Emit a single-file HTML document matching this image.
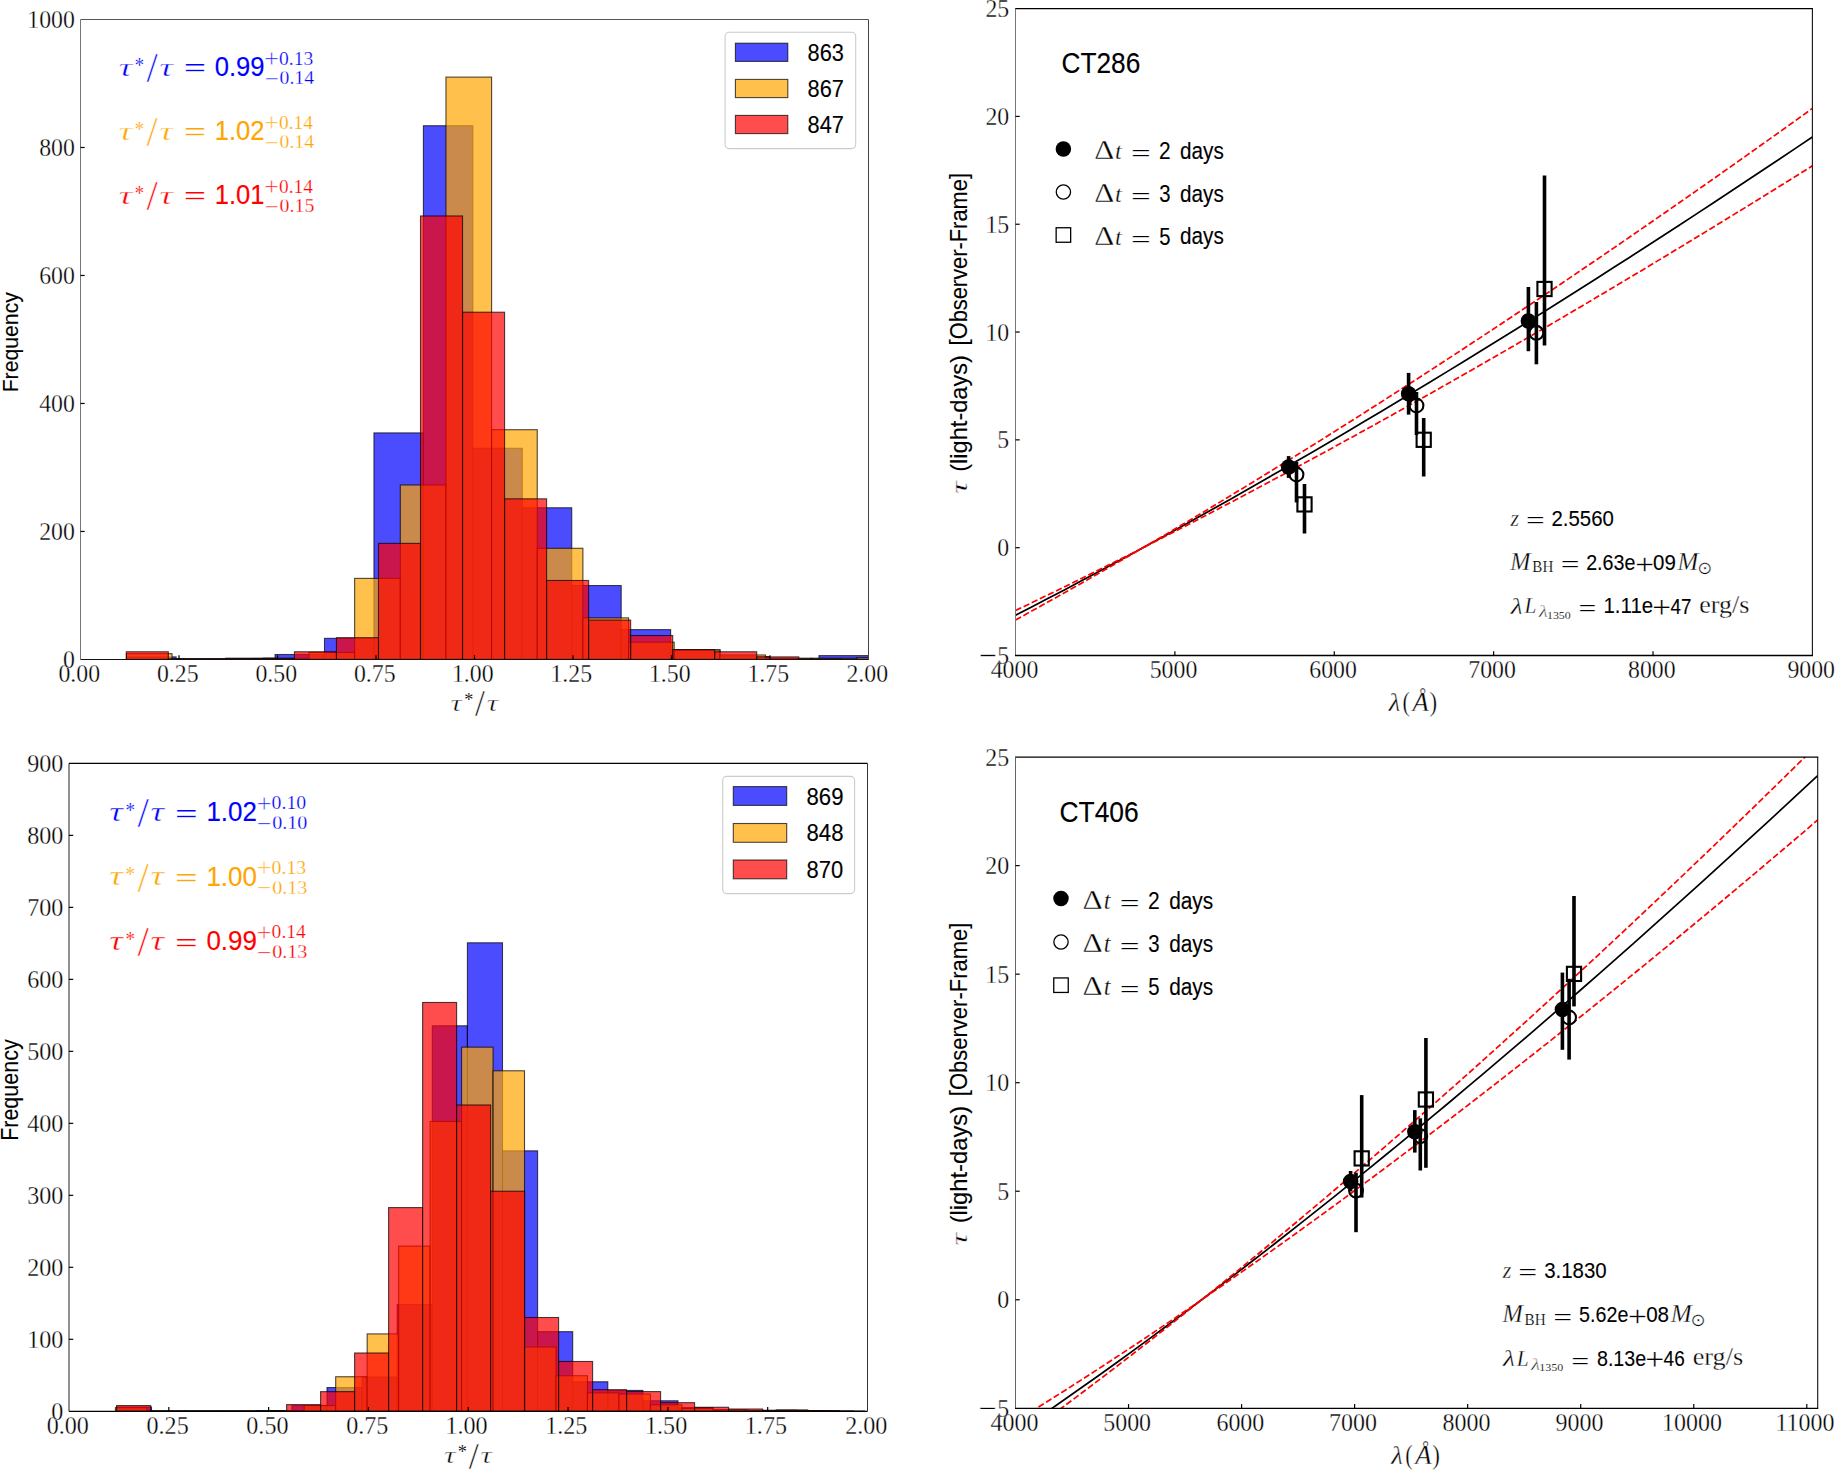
<!DOCTYPE html>
<html lang="en"><head><meta charset="utf-8"><title>Lag recovery histograms and lag spectra</title>
<style>html,body{margin:0;padding:0;background:#fff;overflow:hidden}svg{display:block}</style></head><body>
<svg width="1835" height="1470" viewBox="0 0 1835 1470">
<rect width="1835" height="1470" fill="#fff"/>
<clipPath id="clip1"><rect x="80.5" y="19.5" width="788" height="639.95"/></clipPath>
<g clip-path="url(#clip1)">
<g fill="#0000ff" fill-opacity="0.7" stroke="#000" stroke-opacity="0.7" stroke-width="1.1">
<rect x="126.7" y="656.89" width="49.45" height="2.56"/>
<rect x="176.15" y="658.81" width="49.45" height="0.64"/>
<rect x="225.6" y="658.17" width="49.45" height="1.28"/>
<rect x="275.05" y="654.52" width="49.45" height="4.93"/>
<rect x="324.5" y="638.33" width="49.45" height="21.12"/>
<rect x="373.95" y="432.91" width="49.45" height="226.54"/>
<rect x="423.4" y="125.73" width="49.45" height="533.72"/>
<rect x="472.85" y="448.27" width="49.45" height="211.18"/>
<rect x="522.3" y="507.78" width="49.45" height="151.67"/>
<rect x="571.75" y="585.54" width="49.45" height="73.91"/>
<rect x="621.2" y="629.63" width="49.45" height="29.82"/>
<rect x="670.65" y="649.85" width="49.45" height="9.6"/>
<rect x="720.1" y="656.57" width="49.45" height="2.88"/>
<rect x="769.55" y="658.81" width="49.45" height="0.64"/>
<rect x="819" y="655.61" width="49.45" height="3.84"/>
<rect x="868.45" y="657.53" width="49.45" height="1.92"/>
</g>
<g fill="#ffa500" fill-opacity="0.7" stroke="#000" stroke-opacity="0.7" stroke-width="1.1">
<rect x="126.4" y="653.69" width="45.65" height="5.76"/>
<rect x="172.05" y="658.81" width="45.65" height="0.64"/>
<rect x="217.7" y="658.81" width="45.65" height="0.64"/>
<rect x="263.35" y="658.17" width="45.65" height="1.28"/>
<rect x="309" y="652.41" width="45.65" height="7.04"/>
<rect x="354.65" y="578.37" width="45.65" height="81.08"/>
<rect x="400.3" y="485" width="45.65" height="174.45"/>
<rect x="445.95" y="77.1" width="45.65" height="582.35"/>
<rect x="491.6" y="429.71" width="45.65" height="229.74"/>
<rect x="537.25" y="548.29" width="45.65" height="111.16"/>
<rect x="582.9" y="617.85" width="45.65" height="41.6"/>
<rect x="628.55" y="642.17" width="45.65" height="17.28"/>
<rect x="674.2" y="649.85" width="45.65" height="9.6"/>
<rect x="719.85" y="654.97" width="45.65" height="4.48"/>
<rect x="765.5" y="658.17" width="45.65" height="1.28"/>
<rect x="811.15" y="658.17" width="45.65" height="1.28"/>
<rect x="856.8" y="657.53" width="45.65" height="1.92"/>
</g>
<g fill="#ff0000" fill-opacity="0.7" stroke="#000" stroke-opacity="0.7" stroke-width="1.1">
<rect x="126.3" y="651.77" width="42.03" height="7.68"/>
<rect x="168.33" y="658.81" width="42.03" height="0.64"/>
<rect x="210.36" y="658.81" width="42.03" height="0.64"/>
<rect x="252.39" y="658.49" width="42.03" height="0.96"/>
<rect x="294.42" y="651.77" width="42.03" height="7.68"/>
<rect x="336.45" y="637.69" width="42.03" height="21.76"/>
<rect x="378.48" y="543.36" width="42.03" height="116.09"/>
<rect x="420.51" y="215.96" width="42.03" height="443.49"/>
<rect x="462.54" y="312.21" width="42.03" height="347.24"/>
<rect x="504.57" y="498.82" width="42.03" height="160.63"/>
<rect x="546.6" y="580.48" width="42.03" height="78.97"/>
<rect x="588.63" y="620.09" width="42.03" height="39.36"/>
<rect x="630.66" y="635.52" width="42.03" height="23.93"/>
<rect x="672.69" y="649.66" width="42.03" height="9.79"/>
<rect x="714.72" y="651.77" width="42.03" height="7.68"/>
<rect x="756.75" y="656.89" width="42.03" height="2.56"/>
<rect x="798.78" y="658.81" width="42.03" height="0.64"/>
<rect x="840.81" y="659.13" width="42.03" height="0.32"/>
</g>
</g>
<line x1="80.5" y1="19.5" x2="868.5" y2="19.5" stroke="#555" stroke-width="1"/>
<line x1="868.5" y1="19.5" x2="868.5" y2="659.45" stroke="#444" stroke-width="1"/>
<line x1="80.5" y1="19.5" x2="80.5" y2="659.45" stroke="#777" stroke-width="1"/>
<line x1="80.5" y1="659.45" x2="868.5" y2="659.45" stroke="#111" stroke-width="1.1"/>
<text transform="translate(58.47 682) scale(0.93 1)" font-family='"Liberation Serif", "DejaVu Serif", serif' font-size="25.6" stroke="#fff" stroke-width="0.32">0.00</text>
<line x1="179" y1="659.45" x2="179" y2="655.25" stroke="#000" stroke-width="1.2"/>
<text transform="translate(156.97 682) scale(0.93 1)" font-family='"Liberation Serif", "DejaVu Serif", serif' font-size="25.6" stroke="#fff" stroke-width="0.32">0.25</text>
<line x1="277.5" y1="659.45" x2="277.5" y2="655.25" stroke="#000" stroke-width="1.2"/>
<text transform="translate(255.47 682) scale(0.93 1)" font-family='"Liberation Serif", "DejaVu Serif", serif' font-size="25.6" stroke="#fff" stroke-width="0.32">0.50</text>
<line x1="376" y1="659.45" x2="376" y2="655.25" stroke="#000" stroke-width="1.2"/>
<text transform="translate(353.97 682) scale(0.93 1)" font-family='"Liberation Serif", "DejaVu Serif", serif' font-size="25.6" stroke="#fff" stroke-width="0.32">0.75</text>
<line x1="474.5" y1="659.45" x2="474.5" y2="655.25" stroke="#000" stroke-width="1.2"/>
<text transform="translate(451.91 682) scale(0.93 1)" font-family='"Liberation Serif", "DejaVu Serif", serif' font-size="25.6" stroke="#fff" stroke-width="0.32">1.00</text>
<line x1="573" y1="659.45" x2="573" y2="655.25" stroke="#000" stroke-width="1.2"/>
<text transform="translate(550.41 682) scale(0.93 1)" font-family='"Liberation Serif", "DejaVu Serif", serif' font-size="25.6" stroke="#fff" stroke-width="0.32">1.25</text>
<line x1="671.5" y1="659.45" x2="671.5" y2="655.25" stroke="#000" stroke-width="1.2"/>
<text transform="translate(648.91 682) scale(0.93 1)" font-family='"Liberation Serif", "DejaVu Serif", serif' font-size="25.6" stroke="#fff" stroke-width="0.32">1.50</text>
<line x1="770" y1="659.45" x2="770" y2="655.25" stroke="#000" stroke-width="1.2"/>
<text transform="translate(747.41 682) scale(0.93 1)" font-family='"Liberation Serif", "DejaVu Serif", serif' font-size="25.6" stroke="#fff" stroke-width="0.32">1.75</text>
<text transform="translate(846.47 682) scale(0.93 1)" font-family='"Liberation Serif", "DejaVu Serif", serif' font-size="25.6" stroke="#fff" stroke-width="0.32">2.00</text>
<text transform="translate(62.94 668.05) scale(0.93 1)" font-family='"Liberation Serif", "DejaVu Serif", serif' font-size="25.6" stroke="#fff" stroke-width="0.32">0</text>
<line x1="80.5" y1="531.46" x2="84.7" y2="531.46" stroke="#000" stroke-width="1.2"/>
<text transform="translate(39.13 540.06) scale(0.93 1)" font-family='"Liberation Serif", "DejaVu Serif", serif' font-size="25.6" stroke="#fff" stroke-width="0.32">200</text>
<line x1="80.5" y1="403.47" x2="84.7" y2="403.47" stroke="#000" stroke-width="1.2"/>
<text transform="translate(39.13 412.07) scale(0.93 1)" font-family='"Liberation Serif", "DejaVu Serif", serif' font-size="25.6" stroke="#fff" stroke-width="0.32">400</text>
<line x1="80.5" y1="275.48" x2="84.7" y2="275.48" stroke="#000" stroke-width="1.2"/>
<text transform="translate(39.13 284.08) scale(0.93 1)" font-family='"Liberation Serif", "DejaVu Serif", serif' font-size="25.6" stroke="#fff" stroke-width="0.32">600</text>
<line x1="80.5" y1="147.49" x2="84.7" y2="147.49" stroke="#000" stroke-width="1.2"/>
<text transform="translate(39.13 156.09) scale(0.93 1)" font-family='"Liberation Serif", "DejaVu Serif", serif' font-size="25.6" stroke="#fff" stroke-width="0.32">800</text>
<text transform="translate(27.23 28.1) scale(0.93 1)" font-family='"Liberation Serif", "DejaVu Serif", serif' font-size="25.6" stroke="#fff" stroke-width="0.32">1000</text>
<text transform="translate(450.51 710.7) scale(1.4113 1)" font-family='"Liberation Serif", "DejaVu Serif", serif' font-size="22.3" font-style="italic" stroke="#fff" stroke-width="0.45">τ</text>
<text transform="translate(464.15 705.58) scale(1.0195 1)" font-family='"Liberation Serif", "DejaVu Serif", serif' font-size="17.87" stroke="#fff" stroke-width="0.1">*</text>
<text transform="translate(475 716.37) scale(0.9511 1)" font-family='"Liberation Serif", "DejaVu Serif", serif' font-size="37.38" stroke="#fff" stroke-width="0.47">/</text>
<text transform="translate(486.71 710.7) scale(1.4113 1)" font-family='"Liberation Serif", "DejaVu Serif", serif' font-size="22.3" font-style="italic" stroke="#fff" stroke-width="0.45">τ</text>
<text transform="translate(17.82 392.33) rotate(-90) scale(0.9226 1)" font-family='"Liberation Sans", "DejaVu Sans", sans-serif' font-size="23" stroke="#000" stroke-width="0.12">Frequency</text>
<rect x="725.1" y="32.3" width="130.6" height="116.3" rx="4" ry="4" fill="#fff" fill-opacity="0.8" stroke="#ccc" stroke-width="1.1"/>
<rect x="735.4" y="43.2" width="52.4" height="18.2" fill="#0000ff" fill-opacity="0.7" stroke="#000" stroke-opacity="0.7" stroke-width="1.1"/>
<text transform="translate(807.62 60.53) scale(0.9161 1)" font-family='"Liberation Sans", "DejaVu Sans", sans-serif' font-size="23.79" stroke="#000" stroke-width="0.12">863</text>
<rect x="735.4" y="79.4" width="52.4" height="18.2" fill="#ffa500" fill-opacity="0.7" stroke="#000" stroke-opacity="0.7" stroke-width="1.1"/>
<text transform="translate(807.62 97.03) scale(0.9161 1)" font-family='"Liberation Sans", "DejaVu Sans", sans-serif' font-size="23.79" stroke="#000" stroke-width="0.12">867</text>
<rect x="735.4" y="115.4" width="52.4" height="18.2" fill="#ff0000" fill-opacity="0.7" stroke="#000" stroke-opacity="0.7" stroke-width="1.1"/>
<text transform="translate(807.62 133.03) scale(0.9161 1)" font-family='"Liberation Sans", "DejaVu Sans", sans-serif' font-size="23.79" stroke="#000" stroke-width="0.12">847</text>
<text transform="translate(118.4 75.59) scale(1.4762 1)" font-family='"Liberation Serif", "DejaVu Serif", serif' font-size="26.01" font-style="italic" fill="#0000ff" stroke="#fff" stroke-width="0.45">τ</text>
<text transform="translate(134.72 71.7) scale(0.9231 1)" font-family='"Liberation Serif", "DejaVu Serif", serif' font-size="20.27" fill="#0000ff" stroke="#fff" stroke-width="0.1">*</text>
<text transform="translate(146.6 82.25) scale(0.9778 1)" font-family='"Liberation Serif", "DejaVu Serif", serif' font-size="41.45" fill="#0000ff" stroke="#fff" stroke-width="0.52">/</text>
<text transform="translate(159.2 75.59) scale(1.4659 1)" font-family='"Liberation Serif", "DejaVu Serif", serif' font-size="26.01" font-style="italic" fill="#0000ff" stroke="#fff" stroke-width="0.45">τ</text>
<text transform="translate(183.64 78.49) scale(1.3688 1)" font-family='"Liberation Serif", "DejaVu Serif", serif' font-size="28.99" fill="#0000ff" stroke="#fff" stroke-width="0.15">=</text>
<text transform="translate(214.7 76.17) scale(0.9295 1)" font-family='"Liberation Sans", "DejaVu Sans", sans-serif' font-size="27.55" fill="#0000ff" stroke="#0000ff" stroke-width="0.14">0.99</text>
<text transform="translate(264.05 67.88) scale(1.0091 1)" font-family='"Liberation Serif", "DejaVu Serif", serif' font-size="26.43" fill="#0000ff" stroke="#fff" stroke-width="0.5">+</text>
<text transform="translate(278.99 64.5) scale(1.0033 1)" font-family='"Liberation Serif", "DejaVu Serif", serif' font-size="19.49" fill="#0000ff" stroke="#fff" stroke-width="0.24">0.13</text>
<text transform="translate(264.71 86.52) scale(1.0512 1)" font-family='"Liberation Serif", "DejaVu Serif", serif' font-size="24.15" fill="#0000ff" stroke="#fff" stroke-width="0.4">−</text>
<text transform="translate(279.58 84.09) scale(1.0047 1)" font-family='"Liberation Serif", "DejaVu Serif", serif' font-size="19.64" fill="#0000ff" stroke="#fff" stroke-width="0.25">0.14</text>
<text transform="translate(118.4 139.59) scale(1.4762 1)" font-family='"Liberation Serif", "DejaVu Serif", serif' font-size="26.01" font-style="italic" fill="#ffa500" stroke="#fff" stroke-width="0.45">τ</text>
<text transform="translate(134.72 135.7) scale(0.9231 1)" font-family='"Liberation Serif", "DejaVu Serif", serif' font-size="20.27" fill="#ffa500" stroke="#fff" stroke-width="0.1">*</text>
<text transform="translate(146.6 146.25) scale(0.9778 1)" font-family='"Liberation Serif", "DejaVu Serif", serif' font-size="41.45" fill="#ffa500" stroke="#fff" stroke-width="0.52">/</text>
<text transform="translate(159.2 139.59) scale(1.4659 1)" font-family='"Liberation Serif", "DejaVu Serif", serif' font-size="26.01" font-style="italic" fill="#ffa500" stroke="#fff" stroke-width="0.45">τ</text>
<text transform="translate(183.64 142.49) scale(1.3688 1)" font-family='"Liberation Serif", "DejaVu Serif", serif' font-size="28.99" fill="#ffa500" stroke="#fff" stroke-width="0.15">=</text>
<text transform="translate(214.7 140.17) scale(0.9295 1)" font-family='"Liberation Sans", "DejaVu Sans", sans-serif' font-size="27.55" fill="#ffa500" stroke="#ffa500" stroke-width="0.14">1.02</text>
<text transform="translate(264.05 131.88) scale(1.0091 1)" font-family='"Liberation Serif", "DejaVu Serif", serif' font-size="26.43" fill="#ffa500" stroke="#fff" stroke-width="0.5">+</text>
<text transform="translate(278.99 128.5) scale(0.9941 1)" font-family='"Liberation Serif", "DejaVu Serif", serif' font-size="19.49" fill="#ffa500" stroke="#fff" stroke-width="0.24">0.14</text>
<text transform="translate(264.71 150.52) scale(1.0512 1)" font-family='"Liberation Serif", "DejaVu Serif", serif' font-size="24.15" fill="#ffa500" stroke="#fff" stroke-width="0.4">−</text>
<text transform="translate(279.58 148.09) scale(1.0047 1)" font-family='"Liberation Serif", "DejaVu Serif", serif' font-size="19.64" fill="#ffa500" stroke="#fff" stroke-width="0.25">0.14</text>
<text transform="translate(118.4 203.59) scale(1.4762 1)" font-family='"Liberation Serif", "DejaVu Serif", serif' font-size="26.01" font-style="italic" fill="#ff0000" stroke="#fff" stroke-width="0.45">τ</text>
<text transform="translate(134.72 199.7) scale(0.9231 1)" font-family='"Liberation Serif", "DejaVu Serif", serif' font-size="20.27" fill="#ff0000" stroke="#fff" stroke-width="0.1">*</text>
<text transform="translate(146.6 210.25) scale(0.9778 1)" font-family='"Liberation Serif", "DejaVu Serif", serif' font-size="41.45" fill="#ff0000" stroke="#fff" stroke-width="0.52">/</text>
<text transform="translate(159.2 203.59) scale(1.4659 1)" font-family='"Liberation Serif", "DejaVu Serif", serif' font-size="26.01" font-style="italic" fill="#ff0000" stroke="#fff" stroke-width="0.45">τ</text>
<text transform="translate(183.64 206.49) scale(1.3688 1)" font-family='"Liberation Serif", "DejaVu Serif", serif' font-size="28.99" fill="#ff0000" stroke="#fff" stroke-width="0.15">=</text>
<text transform="translate(214.7 204.17) scale(0.9295 1)" font-family='"Liberation Sans", "DejaVu Sans", sans-serif' font-size="27.55" fill="#ff0000" stroke="#ff0000" stroke-width="0.14">1.01</text>
<text transform="translate(264.05 195.88) scale(1.0091 1)" font-family='"Liberation Serif", "DejaVu Serif", serif' font-size="26.43" fill="#ff0000" stroke="#fff" stroke-width="0.5">+</text>
<text transform="translate(278.99 192.5) scale(0.9941 1)" font-family='"Liberation Serif", "DejaVu Serif", serif' font-size="19.49" fill="#ff0000" stroke="#fff" stroke-width="0.24">0.14</text>
<text transform="translate(264.71 214.52) scale(1.0512 1)" font-family='"Liberation Serif", "DejaVu Serif", serif' font-size="24.15" fill="#ff0000" stroke="#fff" stroke-width="0.4">−</text>
<text transform="translate(279.58 212.09) scale(1.014 1)" font-family='"Liberation Serif", "DejaVu Serif", serif' font-size="19.64" fill="#ff0000" stroke="#fff" stroke-width="0.25">0.15</text>
<clipPath id="clip3"><rect x="69" y="763.4" width="798.5" height="647.9"/></clipPath>
<g clip-path="url(#clip3)">
<g fill="#0000ff" fill-opacity="0.7" stroke="#000" stroke-opacity="0.7" stroke-width="1.1">
<rect x="116.4" y="1406.98" width="35.1" height="4.32"/>
<rect x="151.5" y="1410.94" width="35.1" height="0.36"/>
<rect x="186.6" y="1410.94" width="35.1" height="0.36"/>
<rect x="221.7" y="1410.94" width="35.1" height="0.36"/>
<rect x="256.8" y="1410.58" width="35.1" height="0.72"/>
<rect x="291.9" y="1405.54" width="35.1" height="5.76"/>
<rect x="327" y="1387.54" width="35.1" height="23.76"/>
<rect x="362.1" y="1377.03" width="35.1" height="34.27"/>
<rect x="397.2" y="1304.47" width="35.1" height="106.83"/>
<rect x="432.3" y="1025.8" width="35.1" height="385.5"/>
<rect x="467.4" y="942.8" width="35.1" height="468.5"/>
<rect x="502.5" y="1150.84" width="35.1" height="260.46"/>
<rect x="537.6" y="1331.68" width="35.1" height="79.62"/>
<rect x="572.7" y="1381.78" width="35.1" height="29.52"/>
<rect x="607.8" y="1390.42" width="35.1" height="20.88"/>
<rect x="642.9" y="1400.79" width="35.1" height="10.51"/>
<rect x="678" y="1407.7" width="35.1" height="3.6"/>
<rect x="713.1" y="1409.86" width="35.1" height="1.44"/>
<rect x="748.2" y="1410.58" width="35.1" height="0.72"/>
<rect x="783.3" y="1410.58" width="35.1" height="0.72"/>
<rect x="818.4" y="1410.94" width="35.1" height="0.36"/>
</g>
<g fill="#ffa500" fill-opacity="0.7" stroke="#000" stroke-opacity="0.7" stroke-width="1.1">
<rect x="115.4" y="1407.7" width="31.47" height="3.6"/>
<rect x="146.87" y="1410.94" width="31.47" height="0.36"/>
<rect x="178.34" y="1410.94" width="31.47" height="0.36"/>
<rect x="209.81" y="1410.94" width="31.47" height="0.36"/>
<rect x="241.28" y="1410.94" width="31.47" height="0.36"/>
<rect x="272.75" y="1410.58" width="31.47" height="0.72"/>
<rect x="304.22" y="1405.54" width="31.47" height="5.76"/>
<rect x="335.69" y="1376.75" width="31.47" height="34.55"/>
<rect x="367.16" y="1333.91" width="31.47" height="77.39"/>
<rect x="398.63" y="1246.09" width="31.47" height="165.21"/>
<rect x="430.1" y="1121.4" width="31.47" height="289.9"/>
<rect x="461.57" y="1047.18" width="31.47" height="364.12"/>
<rect x="493.04" y="1070.79" width="31.47" height="340.51"/>
<rect x="524.51" y="1347.01" width="31.47" height="64.29"/>
<rect x="555.98" y="1375.74" width="31.47" height="35.56"/>
<rect x="587.45" y="1392.87" width="31.47" height="18.43"/>
<rect x="618.92" y="1394.02" width="31.47" height="17.28"/>
<rect x="650.39" y="1404.82" width="31.47" height="6.48"/>
<rect x="681.86" y="1408.42" width="31.47" height="2.88"/>
<rect x="713.33" y="1409.86" width="31.47" height="1.44"/>
<rect x="744.8" y="1410.58" width="31.47" height="0.72"/>
<rect x="776.27" y="1409.86" width="31.47" height="1.44"/>
<rect x="807.74" y="1410.58" width="31.47" height="0.72"/>
</g>
<g fill="#ff0000" fill-opacity="0.7" stroke="#000" stroke-opacity="0.7" stroke-width="1.1">
<rect x="116.6" y="1405.54" width="34" height="5.76"/>
<rect x="150.6" y="1410.94" width="34" height="0.36"/>
<rect x="184.6" y="1410.94" width="34" height="0.36"/>
<rect x="218.6" y="1410.94" width="34" height="0.36"/>
<rect x="252.6" y="1410.94" width="34" height="0.36"/>
<rect x="286.6" y="1404.61" width="34" height="6.69"/>
<rect x="320.6" y="1391.65" width="34" height="19.65"/>
<rect x="354.6" y="1352.99" width="34" height="58.31"/>
<rect x="388.6" y="1207.57" width="34" height="203.73"/>
<rect x="422.6" y="1002.48" width="34" height="408.82"/>
<rect x="456.6" y="1104.99" width="34" height="306.31"/>
<rect x="490.6" y="1191.23" width="34" height="220.07"/>
<rect x="524.6" y="1317.5" width="34" height="93.8"/>
<rect x="558.6" y="1361.48" width="34" height="49.82"/>
<rect x="592.6" y="1389.7" width="34" height="21.6"/>
<rect x="626.6" y="1391.58" width="34" height="19.72"/>
<rect x="660.6" y="1402.66" width="34" height="8.64"/>
<rect x="694.6" y="1407.27" width="34" height="4.03"/>
<rect x="728.6" y="1409" width="34" height="2.3"/>
<rect x="762.6" y="1410.22" width="34" height="1.08"/>
<rect x="796.6" y="1410.58" width="34" height="0.72"/>
<rect x="830.6" y="1410.94" width="34" height="0.36"/>
</g>
</g>
<line x1="69" y1="763.4" x2="867.5" y2="763.4" stroke="#000" stroke-width="1.3"/>
<line x1="867.5" y1="763.4" x2="867.5" y2="1411.3" stroke="#333" stroke-width="1"/>
<line x1="69" y1="763.4" x2="69" y2="1411.3" stroke="#222" stroke-width="1"/>
<line x1="69" y1="1411.3" x2="867.5" y2="1411.3" stroke="#000" stroke-width="1.2"/>
<text transform="translate(46.7 1434.14) scale(0.93 1)" font-family='"Liberation Serif", "DejaVu Serif", serif' font-size="25.93" stroke="#fff" stroke-width="0.32">0.00</text>
<line x1="168.81" y1="1411.3" x2="168.81" y2="1407.1" stroke="#000" stroke-width="1.2"/>
<text transform="translate(146.51 1434.14) scale(0.93 1)" font-family='"Liberation Serif", "DejaVu Serif", serif' font-size="25.93" stroke="#fff" stroke-width="0.32">0.25</text>
<line x1="268.62" y1="1411.3" x2="268.62" y2="1407.1" stroke="#000" stroke-width="1.2"/>
<text transform="translate(246.32 1434.14) scale(0.93 1)" font-family='"Liberation Serif", "DejaVu Serif", serif' font-size="25.93" stroke="#fff" stroke-width="0.32">0.50</text>
<line x1="368.44" y1="1411.3" x2="368.44" y2="1407.1" stroke="#000" stroke-width="1.2"/>
<text transform="translate(346.13 1434.14) scale(0.93 1)" font-family='"Liberation Serif", "DejaVu Serif", serif' font-size="25.93" stroke="#fff" stroke-width="0.32">0.75</text>
<line x1="468.25" y1="1411.3" x2="468.25" y2="1407.1" stroke="#000" stroke-width="1.2"/>
<text transform="translate(445.38 1434.14) scale(0.93 1)" font-family='"Liberation Serif", "DejaVu Serif", serif' font-size="25.93" stroke="#fff" stroke-width="0.32">1.00</text>
<line x1="568.06" y1="1411.3" x2="568.06" y2="1407.1" stroke="#000" stroke-width="1.2"/>
<text transform="translate(545.19 1434.14) scale(0.93 1)" font-family='"Liberation Serif", "DejaVu Serif", serif' font-size="25.93" stroke="#fff" stroke-width="0.32">1.25</text>
<line x1="667.88" y1="1411.3" x2="667.88" y2="1407.1" stroke="#000" stroke-width="1.2"/>
<text transform="translate(645.01 1434.14) scale(0.93 1)" font-family='"Liberation Serif", "DejaVu Serif", serif' font-size="25.93" stroke="#fff" stroke-width="0.32">1.50</text>
<line x1="767.69" y1="1411.3" x2="767.69" y2="1407.1" stroke="#000" stroke-width="1.2"/>
<text transform="translate(744.82 1434.14) scale(0.93 1)" font-family='"Liberation Serif", "DejaVu Serif", serif' font-size="25.93" stroke="#fff" stroke-width="0.32">1.75</text>
<text transform="translate(845.2 1434.14) scale(0.93 1)" font-family='"Liberation Serif", "DejaVu Serif", serif' font-size="25.93" stroke="#fff" stroke-width="0.32">2.00</text>
<text transform="translate(51.29 1420.02) scale(0.93 1)" font-family='"Liberation Serif", "DejaVu Serif", serif' font-size="25.93" stroke="#fff" stroke-width="0.32">0</text>
<line x1="69" y1="1339.31" x2="73.2" y2="1339.31" stroke="#000" stroke-width="1.2"/>
<text transform="translate(27.18 1348.03) scale(0.93 1)" font-family='"Liberation Serif", "DejaVu Serif", serif' font-size="25.93" stroke="#fff" stroke-width="0.32">100</text>
<line x1="69" y1="1267.32" x2="73.2" y2="1267.32" stroke="#000" stroke-width="1.2"/>
<text transform="translate(27.18 1276.04) scale(0.93 1)" font-family='"Liberation Serif", "DejaVu Serif", serif' font-size="25.93" stroke="#fff" stroke-width="0.32">200</text>
<line x1="69" y1="1195.33" x2="73.2" y2="1195.33" stroke="#000" stroke-width="1.2"/>
<text transform="translate(27.18 1204.05) scale(0.93 1)" font-family='"Liberation Serif", "DejaVu Serif", serif' font-size="25.93" stroke="#fff" stroke-width="0.32">300</text>
<line x1="69" y1="1123.34" x2="73.2" y2="1123.34" stroke="#000" stroke-width="1.2"/>
<text transform="translate(27.18 1132.06) scale(0.93 1)" font-family='"Liberation Serif", "DejaVu Serif", serif' font-size="25.93" stroke="#fff" stroke-width="0.32">400</text>
<line x1="69" y1="1051.36" x2="73.2" y2="1051.36" stroke="#000" stroke-width="1.2"/>
<text transform="translate(27.18 1060.07) scale(0.93 1)" font-family='"Liberation Serif", "DejaVu Serif", serif' font-size="25.93" stroke="#fff" stroke-width="0.32">500</text>
<line x1="69" y1="979.37" x2="73.2" y2="979.37" stroke="#000" stroke-width="1.2"/>
<text transform="translate(27.18 988.08) scale(0.93 1)" font-family='"Liberation Serif", "DejaVu Serif", serif' font-size="25.93" stroke="#fff" stroke-width="0.32">600</text>
<line x1="69" y1="907.38" x2="73.2" y2="907.38" stroke="#000" stroke-width="1.2"/>
<text transform="translate(27.18 916.09) scale(0.93 1)" font-family='"Liberation Serif", "DejaVu Serif", serif' font-size="25.93" stroke="#fff" stroke-width="0.32">700</text>
<line x1="69" y1="835.39" x2="73.2" y2="835.39" stroke="#000" stroke-width="1.2"/>
<text transform="translate(27.18 844.11) scale(0.93 1)" font-family='"Liberation Serif", "DejaVu Serif", serif' font-size="25.93" stroke="#fff" stroke-width="0.32">800</text>
<text transform="translate(27.18 772.12) scale(0.93 1)" font-family='"Liberation Serif", "DejaVu Serif", serif' font-size="25.93" stroke="#fff" stroke-width="0.32">900</text>
<text transform="translate(443.95 1463.22) scale(1.4113 1)" font-family='"Liberation Serif", "DejaVu Serif", serif' font-size="22.59" font-style="italic" stroke="#fff" stroke-width="0.45">τ</text>
<text transform="translate(457.76 1458.02) scale(1.0195 1)" font-family='"Liberation Serif", "DejaVu Serif", serif' font-size="18.1" stroke="#fff" stroke-width="0.1">*</text>
<text transform="translate(468.76 1468.96) scale(0.9511 1)" font-family='"Liberation Serif", "DejaVu Serif", serif' font-size="37.87" stroke="#fff" stroke-width="0.47">/</text>
<text transform="translate(480.62 1463.22) scale(1.4113 1)" font-family='"Liberation Serif", "DejaVu Serif", serif' font-size="22.59" font-style="italic" stroke="#fff" stroke-width="0.45">τ</text>
<text transform="translate(17.75 1140.87) rotate(-90) scale(0.9226 1)" font-family='"Liberation Sans", "DejaVu Sans", sans-serif' font-size="23.3" stroke="#000" stroke-width="0.12">Frequency</text>
<rect x="722.7" y="776.4" width="131.9" height="117.2" rx="4" ry="4" fill="#fff" fill-opacity="0.8" stroke="#ccc" stroke-width="1.1"/>
<rect x="733.3" y="786.6" width="53.4" height="18.8" fill="#0000ff" fill-opacity="0.7" stroke="#000" stroke-opacity="0.7" stroke-width="1.1"/>
<text transform="translate(806.51 804.62) scale(0.9201 1)" font-family='"Liberation Sans", "DejaVu Sans", sans-serif' font-size="24.1" stroke="#000" stroke-width="0.12">869</text>
<rect x="733.3" y="823.5" width="53.4" height="18.8" fill="#ffa500" fill-opacity="0.7" stroke="#000" stroke-opacity="0.7" stroke-width="1.1"/>
<text transform="translate(806.51 841.42) scale(0.9201 1)" font-family='"Liberation Sans", "DejaVu Sans", sans-serif' font-size="24.1" stroke="#000" stroke-width="0.12">848</text>
<rect x="733.3" y="860" width="53.4" height="18.8" fill="#ff0000" fill-opacity="0.7" stroke="#000" stroke-opacity="0.7" stroke-width="1.1"/>
<text transform="translate(806.51 877.92) scale(0.9112 1)" font-family='"Liberation Sans", "DejaVu Sans", sans-serif' font-size="24.1" stroke="#000" stroke-width="0.12">870</text>
<text transform="translate(108.89 820.59) scale(1.4762 1)" font-family='"Liberation Serif", "DejaVu Serif", serif' font-size="26.35" font-style="italic" fill="#0000ff" stroke="#fff" stroke-width="0.45">τ</text>
<text transform="translate(125.43 816.64) scale(0.9231 1)" font-family='"Liberation Serif", "DejaVu Serif", serif' font-size="20.53" fill="#0000ff" stroke="#fff" stroke-width="0.1">*</text>
<text transform="translate(137.46 827.33) scale(0.9778 1)" font-family='"Liberation Serif", "DejaVu Serif", serif' font-size="41.99" fill="#0000ff" stroke="#fff" stroke-width="0.52">/</text>
<text transform="translate(150.23 820.59) scale(1.4659 1)" font-family='"Liberation Serif", "DejaVu Serif", serif' font-size="26.35" font-style="italic" fill="#0000ff" stroke="#fff" stroke-width="0.45">τ</text>
<text transform="translate(174.98 823.52) scale(1.3688 1)" font-family='"Liberation Serif", "DejaVu Serif", serif' font-size="29.37" fill="#0000ff" stroke="#fff" stroke-width="0.15">=</text>
<text transform="translate(206.44 821.17) scale(0.9295 1)" font-family='"Liberation Sans", "DejaVu Sans", sans-serif' font-size="27.91" fill="#0000ff" stroke="#0000ff" stroke-width="0.14">1.02</text>
<text transform="translate(256.44 812.77) scale(1.0091 1)" font-family='"Liberation Serif", "DejaVu Serif", serif' font-size="26.77" fill="#0000ff" stroke="#fff" stroke-width="0.5">+</text>
<text transform="translate(271.57 809.35) scale(1.0033 1)" font-family='"Liberation Serif", "DejaVu Serif", serif' font-size="19.74" fill="#0000ff" stroke="#fff" stroke-width="0.25">0.10</text>
<text transform="translate(257.1 831.66) scale(1.0512 1)" font-family='"Liberation Serif", "DejaVu Serif", serif' font-size="24.46" fill="#0000ff" stroke="#fff" stroke-width="0.4">−</text>
<text transform="translate(272.17 829.2) scale(1.014 1)" font-family='"Liberation Serif", "DejaVu Serif", serif' font-size="19.89" fill="#0000ff" stroke="#fff" stroke-width="0.25">0.10</text>
<text transform="translate(108.89 885.19) scale(1.4762 1)" font-family='"Liberation Serif", "DejaVu Serif", serif' font-size="26.35" font-style="italic" fill="#ffa500" stroke="#fff" stroke-width="0.45">τ</text>
<text transform="translate(125.43 881.24) scale(0.9231 1)" font-family='"Liberation Serif", "DejaVu Serif", serif' font-size="20.53" fill="#ffa500" stroke="#fff" stroke-width="0.1">*</text>
<text transform="translate(137.46 891.93) scale(0.9778 1)" font-family='"Liberation Serif", "DejaVu Serif", serif' font-size="41.99" fill="#ffa500" stroke="#fff" stroke-width="0.52">/</text>
<text transform="translate(150.23 885.19) scale(1.4659 1)" font-family='"Liberation Serif", "DejaVu Serif", serif' font-size="26.35" font-style="italic" fill="#ffa500" stroke="#fff" stroke-width="0.45">τ</text>
<text transform="translate(174.98 888.12) scale(1.3688 1)" font-family='"Liberation Serif", "DejaVu Serif", serif' font-size="29.37" fill="#ffa500" stroke="#fff" stroke-width="0.15">=</text>
<text transform="translate(206.44 885.77) scale(0.9295 1)" font-family='"Liberation Sans", "DejaVu Sans", sans-serif' font-size="27.91" fill="#ffa500" stroke="#ffa500" stroke-width="0.14">1.00</text>
<text transform="translate(256.44 877.37) scale(1.0091 1)" font-family='"Liberation Serif", "DejaVu Serif", serif' font-size="26.77" fill="#ffa500" stroke="#fff" stroke-width="0.5">+</text>
<text transform="translate(271.57 873.95) scale(1.0033 1)" font-family='"Liberation Serif", "DejaVu Serif", serif' font-size="19.74" fill="#ffa500" stroke="#fff" stroke-width="0.25">0.13</text>
<text transform="translate(257.1 896.26) scale(1.0512 1)" font-family='"Liberation Serif", "DejaVu Serif", serif' font-size="24.46" fill="#ffa500" stroke="#fff" stroke-width="0.4">−</text>
<text transform="translate(272.17 893.8) scale(1.014 1)" font-family='"Liberation Serif", "DejaVu Serif", serif' font-size="19.89" fill="#ffa500" stroke="#fff" stroke-width="0.25">0.13</text>
<text transform="translate(108.89 949.69) scale(1.4762 1)" font-family='"Liberation Serif", "DejaVu Serif", serif' font-size="26.35" font-style="italic" fill="#ff0000" stroke="#fff" stroke-width="0.45">τ</text>
<text transform="translate(125.43 945.74) scale(0.9231 1)" font-family='"Liberation Serif", "DejaVu Serif", serif' font-size="20.53" fill="#ff0000" stroke="#fff" stroke-width="0.1">*</text>
<text transform="translate(137.46 956.43) scale(0.9778 1)" font-family='"Liberation Serif", "DejaVu Serif", serif' font-size="41.99" fill="#ff0000" stroke="#fff" stroke-width="0.52">/</text>
<text transform="translate(150.23 949.69) scale(1.4659 1)" font-family='"Liberation Serif", "DejaVu Serif", serif' font-size="26.35" font-style="italic" fill="#ff0000" stroke="#fff" stroke-width="0.45">τ</text>
<text transform="translate(174.98 952.62) scale(1.3688 1)" font-family='"Liberation Serif", "DejaVu Serif", serif' font-size="29.37" fill="#ff0000" stroke="#fff" stroke-width="0.15">=</text>
<text transform="translate(206.44 950.27) scale(0.9295 1)" font-family='"Liberation Sans", "DejaVu Sans", sans-serif' font-size="27.91" fill="#ff0000" stroke="#ff0000" stroke-width="0.14">0.99</text>
<text transform="translate(256.44 941.87) scale(1.0091 1)" font-family='"Liberation Serif", "DejaVu Serif", serif' font-size="26.77" fill="#ff0000" stroke="#fff" stroke-width="0.5">+</text>
<text transform="translate(271.57 938.45) scale(0.9941 1)" font-family='"Liberation Serif", "DejaVu Serif", serif' font-size="19.74" fill="#ff0000" stroke="#fff" stroke-width="0.25">0.14</text>
<text transform="translate(257.1 960.76) scale(1.0512 1)" font-family='"Liberation Serif", "DejaVu Serif", serif' font-size="24.46" fill="#ff0000" stroke="#fff" stroke-width="0.4">−</text>
<text transform="translate(272.17 958.3) scale(1.014 1)" font-family='"Liberation Serif", "DejaVu Serif", serif' font-size="19.89" fill="#ff0000" stroke="#fff" stroke-width="0.25">0.13</text>
<clipPath id="clip2"><rect x="1015.5" y="8.6" width="796.9" height="646.9"/></clipPath>
<g clip-path="url(#clip2)" fill="none">
<path d="M1015.5 615.29 L1032.1 606.73 L1048.7 598.1 L1065.31 589.39 L1081.91 580.62 L1098.51 571.77 L1115.11 562.86 L1131.71 553.88 L1148.32 544.83 L1164.92 535.72 L1181.52 526.55 L1198.12 517.31 L1214.72 508.01 L1231.33 498.64 L1247.93 489.22 L1264.53 479.73 L1281.13 470.19 L1297.74 460.59 L1314.34 450.93 L1330.94 441.21 L1347.54 431.43 L1364.14 421.6 L1380.75 411.72 L1397.35 401.78 L1413.95 391.78 L1430.55 381.73 L1447.15 371.63 L1463.76 361.48 L1480.36 351.28 L1496.96 341.02 L1513.56 330.71 L1530.16 320.35 L1546.77 309.95 L1563.37 299.49 L1579.97 288.98 L1596.57 278.43 L1613.18 267.82 L1629.78 257.17 L1646.38 246.48 L1662.98 235.73 L1679.58 224.94 L1696.19 214.11 L1712.79 203.22 L1729.39 192.3 L1745.99 181.32 L1762.59 170.31 L1779.2 159.25 L1795.8 148.14 L1812.4 136.99" stroke="#000" stroke-width="1.7"/>
<path d="M1015.5 619.99 L1032.1 610.84 L1048.7 601.6 L1065.31 592.29 L1081.91 582.91 L1098.51 573.45 L1115.11 563.92 L1131.71 554.31 L1148.32 544.64 L1164.92 534.89 L1181.52 525.08 L1198.12 515.19 L1214.72 505.25 L1231.33 495.23 L1247.93 485.15 L1264.53 475.01 L1281.13 464.8 L1297.74 454.53 L1314.34 444.2 L1330.94 433.8 L1347.54 423.35 L1364.14 412.83 L1380.75 402.26 L1397.35 391.63 L1413.95 380.94 L1430.55 370.19 L1447.15 359.39 L1463.76 348.53 L1480.36 337.61 L1496.96 326.64 L1513.56 315.62 L1530.16 304.54 L1546.77 293.41 L1563.37 282.22 L1579.97 270.99 L1596.57 259.7 L1613.18 248.36 L1629.78 236.97 L1646.38 225.53 L1662.98 214.03 L1679.58 202.49 L1696.19 190.9 L1712.79 179.26 L1729.39 167.58 L1745.99 155.84 L1762.59 144.06 L1779.2 132.23 L1795.8 120.35 L1812.4 108.43" stroke="#f00" stroke-width="1.7" stroke-dasharray="6.3 2.7"/>
<path d="M1015.5 610.54 L1032.1 602.58 L1048.7 594.56 L1065.31 586.46 L1081.91 578.3 L1098.51 570.08 L1115.11 561.79 L1131.71 553.44 L1148.32 545.03 L1164.92 536.56 L1181.52 528.03 L1198.12 519.44 L1214.72 510.79 L1231.33 502.09 L1247.93 493.32 L1264.53 484.51 L1281.13 475.63 L1297.74 466.7 L1314.34 457.72 L1330.94 448.69 L1347.54 439.6 L1364.14 430.46 L1380.75 421.27 L1397.35 412.03 L1413.95 402.73 L1430.55 393.39 L1447.15 384 L1463.76 374.56 L1480.36 365.07 L1496.96 355.54 L1513.56 345.95 L1530.16 336.32 L1546.77 326.65 L1563.37 316.92 L1579.97 307.16 L1596.57 297.34 L1613.18 287.48 L1629.78 277.58 L1646.38 267.64 L1662.98 257.65 L1679.58 247.61 L1696.19 237.54 L1712.79 227.42 L1729.39 217.26 L1745.99 207.06 L1762.59 196.82 L1779.2 186.53 L1795.8 176.21 L1812.4 165.84" stroke="#f00" stroke-width="1.7" stroke-dasharray="6.3 2.7"/>
<line x1="1288.6" y1="456.1" x2="1288.6" y2="477.9" stroke="#000" stroke-width="3.6"/>
<circle cx="1288.6" cy="467" r="7.75" fill="#000"/>
<line x1="1408.6" y1="372.9" x2="1408.6" y2="414.6" stroke="#000" stroke-width="3.6"/>
<circle cx="1408.6" cy="393.8" r="7.75" fill="#000"/>
<line x1="1528.4" y1="287" x2="1528.4" y2="351.2" stroke="#000" stroke-width="3.6"/>
<circle cx="1528.4" cy="321" r="7.75" fill="#000"/>
<line x1="1296.5" y1="462" x2="1296.5" y2="502.4" stroke="#000" stroke-width="3.6"/>
<circle cx="1296.5" cy="474.5" r="6.9" fill="none" stroke="#000" stroke-width="2.1"/>
<line x1="1416.5" y1="392" x2="1416.5" y2="435" stroke="#000" stroke-width="3.6"/>
<circle cx="1416.5" cy="405.5" r="6.9" fill="none" stroke="#000" stroke-width="2.1"/>
<line x1="1536.4" y1="302" x2="1536.4" y2="364.3" stroke="#000" stroke-width="3.6"/>
<circle cx="1536.4" cy="332.8" r="6.9" fill="none" stroke="#000" stroke-width="2.1"/>
<line x1="1304.5" y1="484" x2="1304.5" y2="533.4" stroke="#000" stroke-width="3.6"/>
<rect x="1297.4" y="497.3" width="14.2" height="14.2" fill="none" stroke="#000" stroke-width="2.1"/>
<line x1="1423.7" y1="418" x2="1423.7" y2="476.5" stroke="#000" stroke-width="3.6"/>
<rect x="1416.6" y="432.7" width="14.2" height="14.2" fill="none" stroke="#000" stroke-width="2.1"/>
<line x1="1544.5" y1="175.5" x2="1544.5" y2="345.4" stroke="#000" stroke-width="3.6"/>
<rect x="1537.4" y="281.9" width="14.2" height="14.2" fill="none" stroke="#000" stroke-width="2.1"/>
</g>
<line x1="1015" y1="8.6" x2="1812.95" y2="8.6" stroke="#000" stroke-width="1.4"/>
<line x1="1812.4" y1="8.6" x2="1812.4" y2="655.5" stroke="#111" stroke-width="1.1"/>
<line x1="1015.5" y1="8.6" x2="1015.5" y2="655.5" stroke="#777" stroke-width="1"/>
<line x1="1015" y1="655.5" x2="1812.95" y2="655.5" stroke="#000" stroke-width="1.3"/>
<text transform="translate(990.68 678.05) scale(0.93 1)" font-family='"Liberation Serif", "DejaVu Serif", serif' font-size="25.6" stroke="#fff" stroke-width="0.32">4000</text>
<line x1="1174.88" y1="655.5" x2="1174.88" y2="651.3" stroke="#000" stroke-width="1.2"/>
<text transform="translate(1149.69 678.05) scale(0.93 1)" font-family='"Liberation Serif", "DejaVu Serif", serif' font-size="25.6" stroke="#fff" stroke-width="0.32">5000</text>
<line x1="1334.26" y1="655.5" x2="1334.26" y2="651.3" stroke="#000" stroke-width="1.2"/>
<text transform="translate(1309.25 678.05) scale(0.93 1)" font-family='"Liberation Serif", "DejaVu Serif", serif' font-size="25.6" stroke="#fff" stroke-width="0.32">6000</text>
<line x1="1493.64" y1="655.5" x2="1493.64" y2="651.3" stroke="#000" stroke-width="1.2"/>
<text transform="translate(1468.26 678.05) scale(0.93 1)" font-family='"Liberation Serif", "DejaVu Serif", serif' font-size="25.6" stroke="#fff" stroke-width="0.32">7000</text>
<line x1="1653.02" y1="655.5" x2="1653.02" y2="651.3" stroke="#000" stroke-width="1.2"/>
<text transform="translate(1628.01 678.05) scale(0.93 1)" font-family='"Liberation Serif", "DejaVu Serif", serif' font-size="25.6" stroke="#fff" stroke-width="0.32">8000</text>
<text transform="translate(1787.39 678.05) scale(0.93 1)" font-family='"Liberation Serif", "DejaVu Serif", serif' font-size="25.6" stroke="#fff" stroke-width="0.32">9000</text>
<text transform="translate(979 664.1) scale(1.25 1)" font-family='"Liberation Serif", "DejaVu Serif", serif' font-size="25.6" stroke="#fff" stroke-width="0.32">−</text>
<text transform="translate(997.34 664.1) scale(0.93 1)" font-family='"Liberation Serif", "DejaVu Serif", serif' font-size="25.6" stroke="#fff" stroke-width="0.32">5</text>
<line x1="1015.5" y1="547.68" x2="1019.7" y2="547.68" stroke="#000" stroke-width="1.2"/>
<text transform="translate(997.34 556.29) scale(0.93 1)" font-family='"Liberation Serif", "DejaVu Serif", serif' font-size="25.6" stroke="#fff" stroke-width="0.32">0</text>
<line x1="1015.5" y1="439.87" x2="1019.7" y2="439.87" stroke="#000" stroke-width="1.2"/>
<text transform="translate(997.34 448.47) scale(0.93 1)" font-family='"Liberation Serif", "DejaVu Serif", serif' font-size="25.6" stroke="#fff" stroke-width="0.32">5</text>
<line x1="1015.5" y1="332.05" x2="1019.7" y2="332.05" stroke="#000" stroke-width="1.2"/>
<text transform="translate(985.44 340.65) scale(0.93 1)" font-family='"Liberation Serif", "DejaVu Serif", serif' font-size="25.6" stroke="#fff" stroke-width="0.32">10</text>
<line x1="1015.5" y1="224.23" x2="1019.7" y2="224.23" stroke="#000" stroke-width="1.2"/>
<text transform="translate(985.44 232.84) scale(0.93 1)" font-family='"Liberation Serif", "DejaVu Serif", serif' font-size="25.6" stroke="#fff" stroke-width="0.32">15</text>
<line x1="1015.5" y1="116.42" x2="1019.7" y2="116.42" stroke="#000" stroke-width="1.2"/>
<text transform="translate(985.44 125.02) scale(0.93 1)" font-family='"Liberation Serif", "DejaVu Serif", serif' font-size="25.6" stroke="#fff" stroke-width="0.32">20</text>
<text transform="translate(985.44 17.2) scale(0.93 1)" font-family='"Liberation Serif", "DejaVu Serif", serif' font-size="25.6" stroke="#fff" stroke-width="0.32">25</text>
<text transform="translate(1388.79 710.9) scale(1.0404 1)" font-family='"Liberation Serif", "DejaVu Serif", serif' font-size="25.88" font-style="italic" stroke="#fff" stroke-width="0.32">λ</text>
<text transform="translate(1402.56 710.6) scale(0.7907 1)" font-family='"Liberation Serif", "DejaVu Serif", serif' font-size="27.88" stroke="#fff" stroke-width="0.35">(</text>
<text transform="translate(1412.61 710.8) scale(0.9584 1)" font-family='"Liberation Serif", "DejaVu Serif", serif' font-size="27.77" font-style="italic" stroke="#fff" stroke-width="0.35">Å</text>
<text transform="translate(1429.43 710.6) scale(0.8238 1)" font-family='"Liberation Serif", "DejaVu Serif", serif' font-size="27.88" stroke="#fff" stroke-width="0.35">)</text>
<text transform="translate(967.03 493.91) rotate(-90) scale(1.5163 1)" font-family='"Liberation Serif", "DejaVu Serif", serif' font-size="23.74" font-style="italic" stroke="#fff" stroke-width="0.45">τ</text>
<text transform="translate(967.04 471.76) rotate(-90)" font-family='"Liberation Sans", "DejaVu Sans", sans-serif' font-size="23.6" stroke="#000" stroke-width="0.12">(light-days)</text>
<text transform="translate(967.04 345.42) rotate(-90) scale(0.9262 1)" font-family='"Liberation Sans", "DejaVu Sans", sans-serif' font-size="23.6" stroke="#000" stroke-width="0.12">[Observer-Frame]</text>
<text transform="translate(1061.47 72.64) scale(0.8859 1)" font-family='"Liberation Sans", "DejaVu Sans", sans-serif' font-size="29.63" stroke="#000" stroke-width="0.15">CT286</text>
<circle cx="1063.4" cy="149" r="7.75" fill="#000"/>
<text transform="translate(1094.13 159.2) scale(1.1752 1)" font-family='"Liberation Serif", "DejaVu Serif", serif' font-size="26.49" stroke="#fff" stroke-width="0.33">Δ</text>
<text transform="translate(1115.04 159.22) scale(1.0039 1)" font-family='"Liberation Serif", "DejaVu Serif", serif' font-size="24.08" font-style="italic" stroke="#fff" stroke-width="0.3">t</text>
<text transform="translate(1131.06 161.32) scale(1.4751 1)" font-family='"Liberation Serif", "DejaVu Serif", serif' font-size="23.72" stroke="#fff" stroke-width="0.15">=</text>
<text transform="translate(1159.02 159.4) scale(0.8698 1)" font-family='"Liberation Sans", "DejaVu Sans", sans-serif' font-size="24.04" stroke="#000" stroke-width="0.12">2</text>
<text transform="translate(1180.05 158.9) scale(0.8902 1)" font-family='"Liberation Sans", "DejaVu Sans", sans-serif' font-size="23.29" stroke="#000" stroke-width="0.12">days</text>
<circle cx="1063.4" cy="192" r="7.15" fill="none" stroke="#000" stroke-width="1.3"/>
<text transform="translate(1094.13 201.9) scale(1.1752 1)" font-family='"Liberation Serif", "DejaVu Serif", serif' font-size="26.49" stroke="#fff" stroke-width="0.33">Δ</text>
<text transform="translate(1115.04 201.92) scale(1.0039 1)" font-family='"Liberation Serif", "DejaVu Serif", serif' font-size="24.08" font-style="italic" stroke="#fff" stroke-width="0.3">t</text>
<text transform="translate(1131.06 204.02) scale(1.4751 1)" font-family='"Liberation Serif", "DejaVu Serif", serif' font-size="23.72" stroke="#fff" stroke-width="0.15">=</text>
<text transform="translate(1159.37 201.73) scale(0.8605 1)" font-family='"Liberation Sans", "DejaVu Sans", sans-serif' font-size="23.51" stroke="#000" stroke-width="0.12">3</text>
<text transform="translate(1180.05 201.6) scale(0.8902 1)" font-family='"Liberation Sans", "DejaVu Sans", sans-serif' font-size="23.29" stroke="#000" stroke-width="0.12">days</text>
<rect x="1056.15" y="227.75" width="14.5" height="14.5" fill="none" stroke="#000" stroke-width="1.3"/>
<text transform="translate(1094.13 244.7) scale(1.1752 1)" font-family='"Liberation Serif", "DejaVu Serif", serif' font-size="26.49" stroke="#fff" stroke-width="0.33">Δ</text>
<text transform="translate(1115.04 244.72) scale(1.0039 1)" font-family='"Liberation Serif", "DejaVu Serif", serif' font-size="24.08" font-style="italic" stroke="#fff" stroke-width="0.3">t</text>
<text transform="translate(1131.06 246.82) scale(1.4751 1)" font-family='"Liberation Serif", "DejaVu Serif", serif' font-size="23.72" stroke="#fff" stroke-width="0.15">=</text>
<text transform="translate(1159.37 244.53) scale(0.8605 1)" font-family='"Liberation Sans", "DejaVu Sans", sans-serif' font-size="23.51" stroke="#000" stroke-width="0.12">5</text>
<text transform="translate(1180.05 244.4) scale(0.8902 1)" font-family='"Liberation Sans", "DejaVu Sans", sans-serif' font-size="23.29" stroke="#000" stroke-width="0.12">days</text>
<text transform="translate(1510.54 525.9) scale(0.9688 1)" font-family='"Liberation Serif", "DejaVu Serif", serif' font-size="22.61" font-style="italic" stroke="#fff" stroke-width="0.28">z</text>
<text transform="translate(1526.04 528.29) scale(1.4733 1)" font-family='"Liberation Serif", "DejaVu Serif", serif' font-size="22.59" stroke="#fff" stroke-width="0.15">=</text>
<text transform="translate(1551.44 525.86) scale(0.941 1)" font-family='"Liberation Sans", "DejaVu Sans", sans-serif' font-size="21.7" stroke="#000" stroke-width="0.11">2.5560</text>
<text transform="translate(1510.28 569.7) scale(0.9895 1)" font-family='"Liberation Serif", "DejaVu Serif", serif' font-size="24.53" font-style="italic" stroke="#fff" stroke-width="0.31">M</text>
<text transform="translate(1532.36 572.44) scale(0.9161 1)" font-family='"Liberation Serif", "DejaVu Serif", serif' font-size="16.52" stroke="#fff" stroke-width="0.21">BH</text>
<text transform="translate(1560.74 572.19) scale(1.4733 1)" font-family='"Liberation Serif", "DejaVu Serif", serif' font-size="22.59" stroke="#fff" stroke-width="0.15">=</text>
<text transform="translate(1586.18 569.66) scale(0.9062 1)" font-family='"Liberation Sans", "DejaVu Sans", sans-serif' font-size="21.7" stroke="#000" stroke-width="0.11">2.63e</text>
<text transform="translate(1635.14 573.53) scale(1.1433 1)" font-family='"Liberation Serif", "DejaVu Serif", serif' font-size="29.11" stroke="#fff" stroke-width="0.15">+</text>
<text transform="translate(1653.06 569.66) scale(0.9431 1)" font-family='"Liberation Sans", "DejaVu Sans", sans-serif' font-size="21.7" stroke="#000" stroke-width="0.11">09</text>
<text transform="translate(1677.49 569.7) scale(1.021 1)" font-family='"Liberation Serif", "DejaVu Serif", serif' font-size="24.53" font-style="italic" stroke="#fff" stroke-width="0.31">M</text>
<text transform="translate(1697.19 574.12)" font-family='"DejaVu Sans", "Liberation Sans", sans-serif' font-size="18.01" stroke="#fff" stroke-width="0.35">⊙</text>
<text transform="translate(1510.78 613.6) scale(1.2305 1)" font-family='"Liberation Serif", "DejaVu Serif", serif' font-size="22.96" font-style="italic" stroke="#fff" stroke-width="0.29">λ</text>
<text transform="translate(1524.43 613.4) scale(0.8948 1)" font-family='"Liberation Serif", "DejaVu Serif", serif' font-size="23.77" font-style="italic" stroke="#fff" stroke-width="0.3">L</text>
<text transform="translate(1538.66 617.3) scale(1.2879 1)" font-family='"Liberation Serif", "DejaVu Serif", serif' font-size="16.28" font-style="italic" stroke="#fff" stroke-width="0.42">λ</text>
<text transform="translate(1546.97 618.73) scale(1.0626 1)" font-family='"Liberation Serif", "DejaVu Serif", serif' font-size="11.2" stroke="#fff" stroke-width="0.14">1350</text>
<text transform="translate(1578.62 615.89) scale(1.3978 1)" font-family='"Liberation Serif", "DejaVu Serif", serif' font-size="22.59" stroke="#fff" stroke-width="0.15">=</text>
<text transform="translate(1603.52 613.46) scale(0.9412 1)" font-family='"Liberation Sans", "DejaVu Sans", sans-serif' font-size="21.7" stroke="#000" stroke-width="0.11">1.11e</text>
<text transform="translate(1652.14 617.68) scale(1.0819 1)" font-family='"Liberation Serif", "DejaVu Serif", serif' font-size="30.76" stroke="#fff" stroke-width="0.15">+</text>
<text transform="translate(1670.41 613.8) scale(0.8681 1)" font-family='"Liberation Sans", "DejaVu Sans", sans-serif' font-size="21.7" stroke="#000" stroke-width="0.11">47</text>
<text transform="translate(1699.29 612.72) scale(1.0226 1)" font-family='"Liberation Serif", "DejaVu Serif", serif' font-size="25.49" stroke="#fff" stroke-width="0.32">erg/s</text>
<clipPath id="clip4"><rect x="1015.5" y="757.1" width="802.2" height="651.2"/></clipPath>
<g clip-path="url(#clip4)" fill="none">
<path d="M1015.5 1433.36 L1032.21 1421.97 L1048.92 1410.46 L1065.64 1398.82 L1082.35 1387.07 L1099.06 1375.19 L1115.78 1363.19 L1132.49 1351.08 L1149.2 1338.86 L1165.91 1326.52 L1182.62 1314.08 L1199.34 1301.53 L1216.05 1288.88 L1232.76 1276.13 L1249.47 1263.27 L1266.19 1250.32 L1282.9 1237.27 L1299.61 1224.12 L1316.33 1210.88 L1333.04 1197.55 L1349.75 1184.12 L1366.46 1170.61 L1383.17 1157 L1399.89 1143.31 L1416.6 1129.53 L1433.31 1115.67 L1450.03 1101.73 L1466.74 1087.7 L1483.45 1073.58 L1500.16 1059.39 L1516.88 1045.12 L1533.59 1030.77 L1550.3 1016.34 L1567.01 1001.83 L1583.72 987.25 L1600.44 972.59 L1617.15 957.86 L1633.86 943.05 L1650.58 928.17 L1667.29 913.22 L1684 898.2 L1700.71 883.11 L1717.43 867.94 L1734.14 852.71 L1750.85 837.41 L1767.56 822.04 L1784.28 806.6 L1800.99 791.1 L1817.7 775.53" stroke="#000" stroke-width="1.7"/>
<path d="M1015.5 1441.77 L1032.21 1429.66 L1048.92 1417.41 L1065.64 1405.03 L1082.35 1392.53 L1099.06 1379.9 L1115.78 1367.14 L1132.49 1354.27 L1149.2 1341.29 L1165.91 1328.18 L1182.62 1314.97 L1199.34 1301.64 L1216.05 1288.21 L1232.76 1274.67 L1249.47 1261.02 L1266.19 1247.28 L1282.9 1233.43 L1299.61 1219.48 L1316.33 1205.44 L1333.04 1191.29 L1349.75 1177.06 L1366.46 1162.73 L1383.17 1148.3 L1399.89 1133.79 L1416.6 1119.19 L1433.31 1104.5 L1450.03 1089.72 L1466.74 1074.85 L1483.45 1059.9 L1500.16 1044.87 L1516.88 1029.75 L1533.59 1014.56 L1550.3 999.28 L1567.01 983.92 L1583.72 968.48 L1600.44 952.97 L1617.15 937.37 L1633.86 921.7 L1650.58 905.96 L1667.29 890.14 L1684 874.25 L1700.71 858.28 L1717.43 842.24 L1734.14 826.13 L1750.85 809.95 L1767.56 793.69 L1784.28 777.37 L1800.99 760.98 L1817.7 744.52" stroke="#f00" stroke-width="1.7" stroke-dasharray="6.3 2.7"/>
<path d="M1015.5 1421.33 L1032.21 1410.99 L1048.92 1400.53 L1065.64 1389.95 L1082.35 1379.26 L1099.06 1368.45 L1115.78 1357.54 L1132.49 1346.51 L1149.2 1335.38 L1165.91 1324.15 L1182.62 1312.81 L1199.34 1301.38 L1216.05 1289.84 L1232.76 1278.21 L1249.47 1266.49 L1266.19 1254.67 L1282.9 1242.76 L1299.61 1230.76 L1316.33 1218.67 L1333.04 1206.5 L1349.75 1194.24 L1366.46 1181.89 L1383.17 1169.46 L1399.89 1156.94 L1416.6 1144.35 L1433.31 1131.67 L1450.03 1118.92 L1466.74 1106.09 L1483.45 1093.18 L1500.16 1080.19 L1516.88 1067.13 L1533.59 1053.99 L1550.3 1040.78 L1567.01 1027.49 L1583.72 1014.14 L1600.44 1000.71 L1617.15 987.21 L1633.86 973.64 L1650.58 960.01 L1667.29 946.3 L1684 932.53 L1700.71 918.69 L1717.43 904.79 L1734.14 890.81 L1750.85 876.78 L1767.56 862.68 L1784.28 848.51 L1800.99 834.29 L1817.7 820" stroke="#f00" stroke-width="1.7" stroke-dasharray="6.3 2.7"/>
<line x1="1350.6" y1="1171" x2="1350.6" y2="1191.4" stroke="#000" stroke-width="3.6"/>
<circle cx="1350.6" cy="1181.6" r="7.75" fill="#000"/>
<line x1="1414.8" y1="1110.1" x2="1414.8" y2="1152.6" stroke="#000" stroke-width="3.6"/>
<circle cx="1414.8" cy="1131.8" r="7.75" fill="#000"/>
<line x1="1562.4" y1="972.6" x2="1562.4" y2="1049.8" stroke="#000" stroke-width="3.6"/>
<circle cx="1562.4" cy="1009.4" r="7.75" fill="#000"/>
<line x1="1356" y1="1172.7" x2="1356" y2="1232.2" stroke="#000" stroke-width="3.6"/>
<circle cx="1356" cy="1190.6" r="6.9" fill="none" stroke="#000" stroke-width="2.1"/>
<line x1="1420.3" y1="1118.3" x2="1420.3" y2="1170.5" stroke="#000" stroke-width="3.6"/>
<circle cx="1420.3" cy="1136.2" r="6.9" fill="none" stroke="#000" stroke-width="2.1"/>
<line x1="1569.1" y1="978.8" x2="1569.1" y2="1059.6" stroke="#000" stroke-width="3.6"/>
<circle cx="1569.1" cy="1017.5" r="6.9" fill="none" stroke="#000" stroke-width="2.1"/>
<line x1="1361.7" y1="1095.1" x2="1361.7" y2="1197.6" stroke="#000" stroke-width="3.6"/>
<rect x="1354.6" y="1151.3" width="14.2" height="14.2" fill="none" stroke="#000" stroke-width="2.1"/>
<line x1="1425.9" y1="1038" x2="1425.9" y2="1167.8" stroke="#000" stroke-width="3.6"/>
<rect x="1418.8" y="1092.4" width="14.2" height="14.2" fill="none" stroke="#000" stroke-width="2.1"/>
<line x1="1574" y1="896" x2="1574" y2="1006.4" stroke="#000" stroke-width="3.6"/>
<rect x="1566.9" y="966.8" width="14.2" height="14.2" fill="none" stroke="#000" stroke-width="2.1"/>
</g>
<line x1="1015" y1="757.1" x2="1818.25" y2="757.1" stroke="#000" stroke-width="1.3"/>
<line x1="1817.7" y1="757.1" x2="1817.7" y2="1408.3" stroke="#111" stroke-width="1.1"/>
<line x1="1015.5" y1="757.1" x2="1015.5" y2="1408.3" stroke="#666" stroke-width="1"/>
<line x1="1015" y1="1408.3" x2="1818.25" y2="1408.3" stroke="#000" stroke-width="1.3"/>
<text transform="translate(990.52 1431) scale(0.93 1)" font-family='"Liberation Serif", "DejaVu Serif", serif' font-size="25.78" stroke="#fff" stroke-width="0.32">4000</text>
<line x1="1128.54" y1="1408.3" x2="1128.54" y2="1404.1" stroke="#000" stroke-width="1.2"/>
<text transform="translate(1103.18 1431) scale(0.93 1)" font-family='"Liberation Serif", "DejaVu Serif", serif' font-size="25.78" stroke="#fff" stroke-width="0.32">5000</text>
<line x1="1241.58" y1="1408.3" x2="1241.58" y2="1404.1" stroke="#000" stroke-width="1.2"/>
<text transform="translate(1216.41 1431) scale(0.93 1)" font-family='"Liberation Serif", "DejaVu Serif", serif' font-size="25.78" stroke="#fff" stroke-width="0.32">6000</text>
<line x1="1354.62" y1="1408.3" x2="1354.62" y2="1404.1" stroke="#000" stroke-width="1.2"/>
<text transform="translate(1329.08 1431) scale(0.93 1)" font-family='"Liberation Serif", "DejaVu Serif", serif' font-size="25.78" stroke="#fff" stroke-width="0.32">7000</text>
<line x1="1467.67" y1="1408.3" x2="1467.67" y2="1404.1" stroke="#000" stroke-width="1.2"/>
<text transform="translate(1442.49 1431) scale(0.93 1)" font-family='"Liberation Serif", "DejaVu Serif", serif' font-size="25.78" stroke="#fff" stroke-width="0.32">8000</text>
<line x1="1580.71" y1="1408.3" x2="1580.71" y2="1404.1" stroke="#000" stroke-width="1.2"/>
<text transform="translate(1555.54 1431) scale(0.93 1)" font-family='"Liberation Serif", "DejaVu Serif", serif' font-size="25.78" stroke="#fff" stroke-width="0.32">9000</text>
<line x1="1693.75" y1="1408.3" x2="1693.75" y2="1404.1" stroke="#000" stroke-width="1.2"/>
<text transform="translate(1662.02 1431) scale(0.93 1)" font-family='"Liberation Serif", "DejaVu Serif", serif' font-size="25.78" stroke="#fff" stroke-width="0.32">10000</text>
<line x1="1806.79" y1="1408.3" x2="1806.79" y2="1404.1" stroke="#000" stroke-width="1.2"/>
<text transform="translate(1775.51 1431) scale(0.93 1)" font-family='"Liberation Serif", "DejaVu Serif", serif' font-size="25.78" stroke="#fff" stroke-width="0.32">11000</text>
<text transform="translate(978.8 1416.96) scale(1.25 1)" font-family='"Liberation Serif", "DejaVu Serif", serif' font-size="25.78" stroke="#fff" stroke-width="0.32">−</text>
<text transform="translate(997.26 1416.96) scale(0.93 1)" font-family='"Liberation Serif", "DejaVu Serif", serif' font-size="25.78" stroke="#fff" stroke-width="0.32">5</text>
<line x1="1015.5" y1="1299.77" x2="1019.7" y2="1299.77" stroke="#000" stroke-width="1.2"/>
<text transform="translate(997.26 1308.43) scale(0.93 1)" font-family='"Liberation Serif", "DejaVu Serif", serif' font-size="25.78" stroke="#fff" stroke-width="0.32">0</text>
<line x1="1015.5" y1="1191.23" x2="1019.7" y2="1191.23" stroke="#000" stroke-width="1.2"/>
<text transform="translate(997.26 1199.9) scale(0.93 1)" font-family='"Liberation Serif", "DejaVu Serif", serif' font-size="25.78" stroke="#fff" stroke-width="0.32">5</text>
<line x1="1015.5" y1="1082.7" x2="1019.7" y2="1082.7" stroke="#000" stroke-width="1.2"/>
<text transform="translate(985.28 1091.36) scale(0.93 1)" font-family='"Liberation Serif", "DejaVu Serif", serif' font-size="25.78" stroke="#fff" stroke-width="0.32">10</text>
<line x1="1015.5" y1="974.17" x2="1019.7" y2="974.17" stroke="#000" stroke-width="1.2"/>
<text transform="translate(985.28 982.83) scale(0.93 1)" font-family='"Liberation Serif", "DejaVu Serif", serif' font-size="25.78" stroke="#fff" stroke-width="0.32">15</text>
<line x1="1015.5" y1="865.63" x2="1019.7" y2="865.63" stroke="#000" stroke-width="1.2"/>
<text transform="translate(985.28 874.3) scale(0.93 1)" font-family='"Liberation Serif", "DejaVu Serif", serif' font-size="25.78" stroke="#fff" stroke-width="0.32">20</text>
<text transform="translate(985.28 765.76) scale(0.93 1)" font-family='"Liberation Serif", "DejaVu Serif", serif' font-size="25.78" stroke="#fff" stroke-width="0.32">25</text>
<text transform="translate(1391.27 1464.08) scale(1.0404 1)" font-family='"Liberation Serif", "DejaVu Serif", serif' font-size="26.06" font-style="italic" stroke="#fff" stroke-width="0.33">λ</text>
<text transform="translate(1405.13 1463.78) scale(0.7907 1)" font-family='"Liberation Serif", "DejaVu Serif", serif' font-size="28.07" stroke="#fff" stroke-width="0.35">(</text>
<text transform="translate(1415.25 1463.98) scale(0.9584 1)" font-family='"Liberation Serif", "DejaVu Serif", serif' font-size="27.97" font-style="italic" stroke="#fff" stroke-width="0.35">Å</text>
<text transform="translate(1432.19 1463.78) scale(0.8238 1)" font-family='"Liberation Serif", "DejaVu Serif", serif' font-size="28.07" stroke="#fff" stroke-width="0.35">)</text>
<text transform="translate(967.03 1245.68) rotate(-90) scale(1.5268 1)" font-family='"Liberation Serif", "DejaVu Serif", serif' font-size="23.74" font-style="italic" stroke="#fff" stroke-width="0.45">τ</text>
<text transform="translate(967 1223.37) rotate(-90)" font-family='"Liberation Sans", "DejaVu Sans", sans-serif' font-size="23.76" stroke="#000" stroke-width="0.12">(light-days)</text>
<text transform="translate(967 1096.16) rotate(-90) scale(0.9262 1)" font-family='"Liberation Sans", "DejaVu Sans", sans-serif' font-size="23.76" stroke="#000" stroke-width="0.12">[Observer-Frame]</text>
<text transform="translate(1059.46 821.53) scale(0.8859 1)" font-family='"Liberation Sans", "DejaVu Sans", sans-serif' font-size="29.84" stroke="#000" stroke-width="0.15">CT406</text>
<circle cx="1061" cy="898.6" r="7.75" fill="#000"/>
<text transform="translate(1082.62 909.2) scale(1.1752 1)" font-family='"Liberation Serif", "DejaVu Serif", serif' font-size="26.68" stroke="#fff" stroke-width="0.33">Δ</text>
<text transform="translate(1103.68 909.22) scale(1.0039 1)" font-family='"Liberation Serif", "DejaVu Serif", serif' font-size="24.25" font-style="italic" stroke="#fff" stroke-width="0.3">t</text>
<text transform="translate(1119.81 911.33) scale(1.4751 1)" font-family='"Liberation Serif", "DejaVu Serif", serif' font-size="23.88" stroke="#fff" stroke-width="0.15">=</text>
<text transform="translate(1147.96 909.4) scale(0.8698 1)" font-family='"Liberation Sans", "DejaVu Sans", sans-serif' font-size="24.2" stroke="#000" stroke-width="0.12">2</text>
<text transform="translate(1169.14 908.9) scale(0.8902 1)" font-family='"Liberation Sans", "DejaVu Sans", sans-serif' font-size="23.45" stroke="#000" stroke-width="0.12">days</text>
<circle cx="1061" cy="942" r="7.15" fill="none" stroke="#000" stroke-width="1.3"/>
<text transform="translate(1082.62 952.2) scale(1.1752 1)" font-family='"Liberation Serif", "DejaVu Serif", serif' font-size="26.68" stroke="#fff" stroke-width="0.33">Δ</text>
<text transform="translate(1103.68 952.22) scale(1.0039 1)" font-family='"Liberation Serif", "DejaVu Serif", serif' font-size="24.25" font-style="italic" stroke="#fff" stroke-width="0.3">t</text>
<text transform="translate(1119.81 954.33) scale(1.4751 1)" font-family='"Liberation Serif", "DejaVu Serif", serif' font-size="23.88" stroke="#fff" stroke-width="0.15">=</text>
<text transform="translate(1148.31 952.03) scale(0.8605 1)" font-family='"Liberation Sans", "DejaVu Sans", sans-serif' font-size="23.68" stroke="#000" stroke-width="0.12">3</text>
<text transform="translate(1169.14 951.9) scale(0.8902 1)" font-family='"Liberation Sans", "DejaVu Sans", sans-serif' font-size="23.45" stroke="#000" stroke-width="0.12">days</text>
<rect x="1053.75" y="977.95" width="14.5" height="14.5" fill="none" stroke="#000" stroke-width="1.3"/>
<text transform="translate(1082.62 995.2) scale(1.1752 1)" font-family='"Liberation Serif", "DejaVu Serif", serif' font-size="26.68" stroke="#fff" stroke-width="0.33">Δ</text>
<text transform="translate(1103.68 995.22) scale(1.0039 1)" font-family='"Liberation Serif", "DejaVu Serif", serif' font-size="24.25" font-style="italic" stroke="#fff" stroke-width="0.3">t</text>
<text transform="translate(1119.81 997.33) scale(1.4751 1)" font-family='"Liberation Serif", "DejaVu Serif", serif' font-size="23.88" stroke="#fff" stroke-width="0.15">=</text>
<text transform="translate(1148.31 995.03) scale(0.8605 1)" font-family='"Liberation Sans", "DejaVu Sans", sans-serif' font-size="23.68" stroke="#000" stroke-width="0.12">5</text>
<text transform="translate(1169.14 994.9) scale(0.8902 1)" font-family='"Liberation Sans", "DejaVu Sans", sans-serif' font-size="23.45" stroke="#000" stroke-width="0.12">days</text>
<text transform="translate(1502.64 1277.9) scale(0.9688 1)" font-family='"Liberation Serif", "DejaVu Serif", serif' font-size="22.77" font-style="italic" stroke="#fff" stroke-width="0.28">z</text>
<text transform="translate(1518.25 1280.3) scale(1.4733 1)" font-family='"Liberation Serif", "DejaVu Serif", serif' font-size="22.74" stroke="#fff" stroke-width="0.15">=</text>
<text transform="translate(1544.15 1277.86) scale(0.9361 1)" font-family='"Liberation Sans", "DejaVu Sans", sans-serif' font-size="21.85" stroke="#000" stroke-width="0.11">3.1830</text>
<text transform="translate(1502.38 1322) scale(0.9895 1)" font-family='"Liberation Serif", "DejaVu Serif", serif' font-size="24.7" font-style="italic" stroke="#fff" stroke-width="0.31">M</text>
<text transform="translate(1524.62 1324.76) scale(0.9161 1)" font-family='"Liberation Serif", "DejaVu Serif", serif' font-size="16.63" stroke="#fff" stroke-width="0.21">BH</text>
<text transform="translate(1553.19 1324.51) scale(1.4733 1)" font-family='"Liberation Serif", "DejaVu Serif", serif' font-size="22.74" stroke="#fff" stroke-width="0.15">=</text>
<text transform="translate(1579.12 1321.96) scale(0.9004 1)" font-family='"Liberation Sans", "DejaVu Sans", sans-serif' font-size="21.85" stroke="#000" stroke-width="0.11">5.62e</text>
<text transform="translate(1628.1 1325.86) scale(1.1433 1)" font-family='"Liberation Serif", "DejaVu Serif", serif' font-size="29.31" stroke="#fff" stroke-width="0.15">+</text>
<text transform="translate(1646.15 1321.96) scale(0.9431 1)" font-family='"Liberation Sans", "DejaVu Sans", sans-serif' font-size="21.85" stroke="#000" stroke-width="0.11">08</text>
<text transform="translate(1670.75 1322) scale(1.021 1)" font-family='"Liberation Serif", "DejaVu Serif", serif' font-size="24.7" font-style="italic" stroke="#fff" stroke-width="0.31">M</text>
<text transform="translate(1690.58 1326.45)" font-family='"DejaVu Sans", "Liberation Sans", sans-serif' font-size="18.13" stroke="#fff" stroke-width="0.35">⊙</text>
<text transform="translate(1502.89 1366.21) scale(1.2305 1)" font-family='"Liberation Serif", "DejaVu Serif", serif' font-size="23.11" font-style="italic" stroke="#fff" stroke-width="0.29">λ</text>
<text transform="translate(1516.63 1366) scale(0.8948 1)" font-family='"Liberation Serif", "DejaVu Serif", serif' font-size="23.94" font-style="italic" stroke="#fff" stroke-width="0.3">L</text>
<text transform="translate(1530.95 1369.93) scale(1.2879 1)" font-family='"Liberation Serif", "DejaVu Serif", serif' font-size="16.39" font-style="italic" stroke="#fff" stroke-width="0.43">λ</text>
<text transform="translate(1539.32 1371.37) scale(1.0626 1)" font-family='"Liberation Serif", "DejaVu Serif", serif' font-size="11.28" stroke="#fff" stroke-width="0.14">1350</text>
<text transform="translate(1571.19 1368.51) scale(1.3978 1)" font-family='"Liberation Serif", "DejaVu Serif", serif' font-size="22.74" stroke="#fff" stroke-width="0.15">=</text>
<text transform="translate(1596.94 1366.07) scale(0.9004 1)" font-family='"Liberation Sans", "DejaVu Sans", sans-serif' font-size="21.85" stroke="#000" stroke-width="0.11">8.13e</text>
<text transform="translate(1645.22 1370.32) scale(1.0819 1)" font-family='"Liberation Serif", "DejaVu Serif", serif' font-size="30.97" stroke="#fff" stroke-width="0.15">+</text>
<text transform="translate(1663.61 1366.07) scale(0.8681 1)" font-family='"Liberation Sans", "DejaVu Sans", sans-serif' font-size="21.85" stroke="#000" stroke-width="0.11">46</text>
<text transform="translate(1692.69 1365.32) scale(1.0226 1)" font-family='"Liberation Serif", "DejaVu Serif", serif' font-size="25.66" stroke="#fff" stroke-width="0.32">erg/s</text>
</svg>
</body></html>
